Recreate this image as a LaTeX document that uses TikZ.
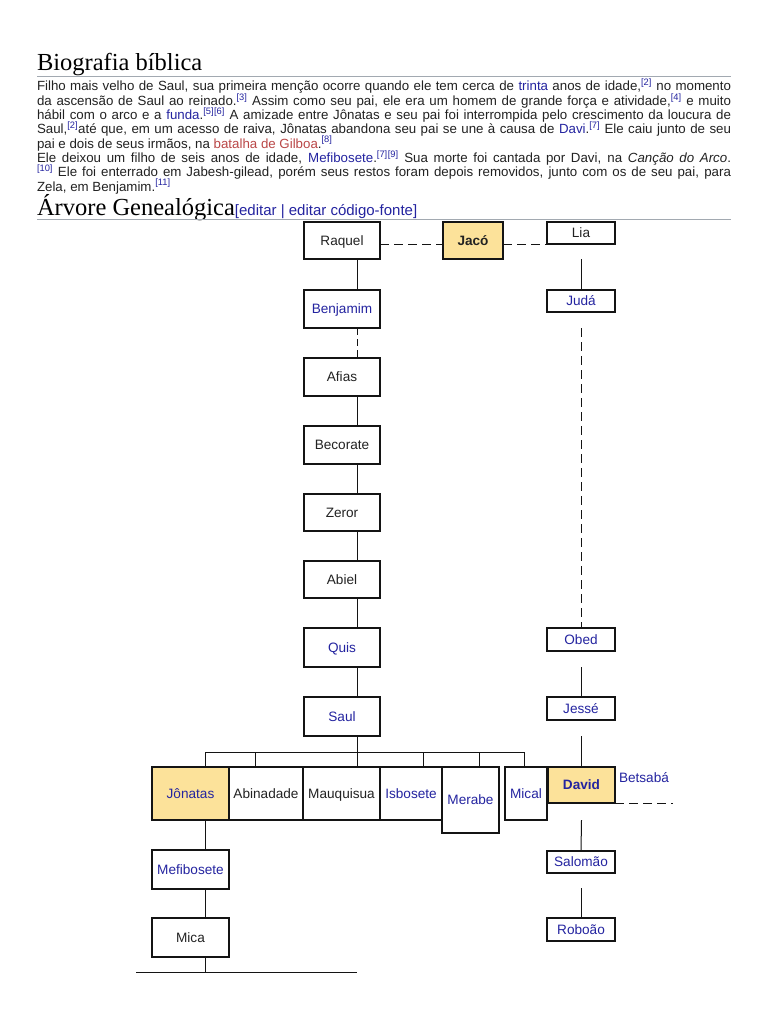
\documentclass[tikz,border=0pt]{standalone}
\usepackage{fontspec}
\setmainfont{Liberation Sans}
\newfontfamily\headfont{Liberation Serif}
\definecolor{linkblue}{RGB}{36,36,160}
\definecolor{redlink}{RGB}{186,72,72}
\definecolor{txt}{RGB}{34,34,34}
\definecolor{boxc}{RGB}{20,20,20}
\definecolor{gold}{RGB}{252,226,154}
\definecolor{rulec}{RGB}{162,169,177}
\newcommand\bfnt{\fontsize{13.3}{15}\selectfont}
\newcommand\boxfnt{\fontsize{13.6}{15}\selectfont}
\newcommand\lk[1]{\textcolor{linkblue}{#1}}
\newcommand\rf[1]{\textcolor{linkblue}{\textsuperscript{[#1]}}}
\newcommand\jline[1]{\makebox[694pt][s]{#1}}
\begin{document}
\begin{tikzpicture}[x=1pt,y=-1pt,
  every node/.style={inner sep=0pt,outer sep=0pt},
  box/.style={draw=boxc,line width=1.8pt,text=txt,font=\boxfnt,align=center,text height=11pt,text depth=1.2pt},
  blue/.style={text=linkblue},
  conn/.style={draw=boxc,line width=1pt},
  dconn/.style={conn,dash pattern=on 9pt off 5pt},
  rulel/.style={draw=rulec,line width=1pt},
  bodyline/.style={anchor=base west,text=txt,font=\bfnt},
  heading/.style={anchor=base west,text=black,font=\headfont\fontsize{24.5}{28}\selectfont}]
\useasboundingbox[fill=white] (0,0) rectangle (768,1024);

% ---- heading 1 and text
\node[heading] (h1) at (37,71) {Biografia bíblica};
\coordinate (r1a) at (37,77); \coordinate (r1b) at (731,77);
\draw[rulel] (r1a) -- (r1b);

\node[bodyline] (t1) at (37,91) {\jline{Filho mais velho de Saul, sua primeira menção ocorre quando ele tem cerca de \lk{trinta} anos de idade,\rf{2} no momento}};
\node[bodyline] (t2) at (37,105.3) {\jline{da ascensão de Saul ao reinado.\rf{3} Assim como seu pai, ele era um homem de grande força e atividade,\rf{4} e muito}};
\node[bodyline] (t3) at (37,119.6) {\jline{hábil com o arco e a \lk{funda}.\rf{5}\rf{6} A amizade entre Jônatas e seu pai foi interrompida pelo crescimento da loucura de}};
\node[bodyline] (t4) at (37,133.9) {\jline{Saul,\rf{2}até que, em um acesso de raiva, Jônatas abandona seu pai se une à causa de \lk{Davi}.\rf{7} Ele caiu junto de seu}};
\node[bodyline] (t5) at (37,148.2) {pai e dois de seus irmãos, na \textcolor{redlink}{batalha de Gilboa}.\rf{8}};
\node[bodyline] (t6) at (37,162.5) {\jline{Ele deixou um filho de seis anos de idade, \lk{Mefibosete}.\rf{7}\rf{9} Sua morte foi cantada por Davi, na \textit{Canção do Arco}.}};
\node[bodyline] (t7) at (37,176.8) {\jline{\rf{10} Ele foi enterrado em Jabesh-gilead, porém seus restos foram depois removidos, junto com os de seu pai, para}};
\node[bodyline] (t8) at (37,191.1) {Zela, em Benjamim.\rf{11}};

% ---- heading 2
\node[heading] (h2) at (37,216) {Árvore Genealógica\textcolor{linkblue}{\normalfont\fontsize{15}{17}\selectfont[editar | editar código-fonte]}};
\coordinate (r2a) at (37,220); \coordinate (r2b) at (731,220);
\draw[rulel] (r2a) -- (r2b);

% ---- top row
\node[box,minimum width=76pt,minimum height=37pt] (raquel) at (342,240.5) {Raquel};
\node[box,fill=gold,minimum width=60pt,minimum height=37pt,font=\boxfnt\bfseries] (jaco) at (473,240.5) {Jacó};
\node[box,minimum width=68pt,minimum height=22pt] (lia) at (581,233) {Lia};

% ---- left column
\node[box,blue,minimum width=76pt,minimum height=38pt] (benjamim) at (342,309) {Benjamim};
\node[box,minimum width=76pt,minimum height=38pt] (afias) at (342,377) {Afias};
\node[box,minimum width=76pt,minimum height=38pt] (becorate) at (342,445) {Becorate};
\node[box,minimum width=76pt,minimum height=37pt] (zeror) at (342,512.5) {Zeror};
\node[box,minimum width=76pt,minimum height=37pt] (abiel) at (342,579.5) {Abiel};
\node[box,blue,minimum width=76pt,minimum height=39pt] (quis) at (342,647.5) {Quis};
\node[box,blue,minimum width=76pt,minimum height=39pt] (saul) at (342,716.5) {Saul};

% ---- right column
\node[box,blue,minimum width=68pt,minimum height=22pt] (juda) at (581,301) {Judá};
\node[box,blue,minimum width=68pt,minimum height=23pt] (obed) at (581,639.5) {Obed};
\node[box,blue,minimum width=68pt,minimum height=23pt] (jesse) at (581,708.5) {Jessé};
\node[box,blue,fill=gold,minimum width=67pt,minimum height=36pt,font=\boxfnt\bfseries] (david) at (581.5,785) {David};
\node[anchor=west,text=linkblue,font=\boxfnt] (betsaba) at (619,778) {Betsabá};
\node[box,blue,minimum width=68pt,minimum height=22pt] (salomao) at (581,862) {Salomão};
\node[box,blue,minimum width=68pt,minimum height=23pt] (roboao) at (581,929.5) {Roboão};

% ---- children of Saul
\node[box,blue,fill=gold,minimum width=77pt,minimum height=53pt] (jonatas) at (190.5,793.5) {Jônatas};
\node[box,minimum width=74pt,minimum height=53pt] (abinadade) at (266,793.5) {Abinadade};
\node[box,minimum width=77pt,minimum height=53pt] (mauquisua) at (341.5,793.5) {Mauquisua};
\node[box,blue,minimum width=62pt,minimum height=53pt] (isbosete) at (411,793.5) {Isbosete};
\node[box,blue,minimum width=57pt,minimum height=66pt] (merabe) at (470.5,800) {Merabe};
\node[box,blue,minimum width=42pt,minimum height=53pt] (mical) at (526,793.5) {Mical};
\node[box,blue,minimum width=77pt,minimum height=39pt] (mefibosete) at (190.5,869.5) {Mefibosete};
\node[box,minimum width=77pt,minimum height=39pt] (mica) at (190.5,937.5) {Mica};

% ---- connectors top
\draw[dconn] ([yshift=-3.5pt]raquel.east) -- ([yshift=-3.5pt]raquel.east -| jaco.west);
\draw[dconn] (jaco.east |- lia.south) -- (lia.south west);
\draw[conn] ([yshift=-15pt]lia.south) -- (juda.north);

% ---- left column connectors
\draw[conn] ([xshift=15pt]raquel.south) -- ([xshift=15pt]benjamim.north);
\draw[conn,dash pattern=on 7pt off 4pt] ([xshift=15pt]benjamim.south) -- ([xshift=15pt]afias.north);
\draw[conn] ([xshift=15pt]afias.south) -- ([xshift=15pt]becorate.north);
\draw[conn] ([xshift=15pt]becorate.south) -- ([xshift=15pt]zeror.north);
\draw[conn] ([xshift=15pt]zeror.south) -- ([xshift=15pt]abiel.north);
\draw[conn] ([xshift=15pt]abiel.south) -- ([xshift=15pt]quis.north);
\draw[conn] ([xshift=15pt]quis.south) -- ([xshift=15pt]saul.north);
\draw[conn] ([xshift=15pt]saul.south) -- ([xshift=15pt]saul.south |- mauquisua.north);

% ---- bus to children
\coordinate (busL) at (205,752); \coordinate (busR) at (524,752);
\draw[conn] (busL) -- (busR);
\draw[conn] (busL) -- (busL |- jonatas.north);
\draw[conn] ([xshift=-11pt]abinadade.north |- busL) -- ([xshift=-11pt]abinadade.north);
\draw[conn] ([xshift=12pt]isbosete.north |- busL) -- ([xshift=12pt]isbosete.north);
\draw[conn] ([xshift=8.5pt]merabe.north |- busL) -- ([xshift=8.5pt]merabe.north);
\draw[conn] (busR) -- (busR |- mical.north);

% ---- Jonatas line
\draw[conn] ([xshift=14.5pt]jonatas.south) -- ([xshift=14.5pt]mefibosete.north);
\draw[conn] ([xshift=14.5pt]mefibosete.south) -- ([xshift=14.5pt]mica.north);
\coordinate (baseL) at (136,972); \coordinate (baseR) at (357,972);
\draw[conn] ([xshift=14.5pt]mica.south) -- ([xshift=14.5pt]mica.south |- baseL);
\draw[conn] (baseL) -- (baseR);

% ---- right column connectors
\draw[dconn] ([yshift=-16pt]juda.south) -- (obed.north);
\draw[conn] ([yshift=-16pt]obed.south) -- (jesse.north);
\draw[conn] ([yshift=-16pt]jesse.south) -- (jesse.south |- david.north);
\draw[conn] ([yshift=-17pt]david.south) -- (salomao.north);
\draw[conn] ([yshift=-15pt]salomao.south) -- (roboao.north);
\coordinate (bsend) at (673,803);
\draw[dconn] (david.south east) -- (bsend);
\end{tikzpicture}
\end{document}
